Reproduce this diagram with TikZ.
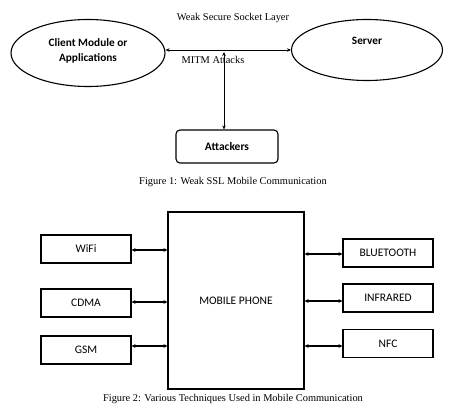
\documentclass[tikz,border=0pt]{standalone}
\usepackage{fontspec}
\setmainfont{Liberation Serif}
\newfontfamily\calfont{Carlito}
\usetikzlibrary{arrows.meta,shapes.geometric}
\begin{document}
\begin{tikzpicture}[x=1pt,y=-1pt,
  ell/.style={draw,ellipse,line width=1.1pt,font=\calfont\bfseries\fontsize{11.3}{15}\selectfont,align=center},
  rbox/.style={draw,rounded corners=4pt,line width=1.1pt,font=\calfont\bfseries\fontsize{11.5}{14}\selectfont},
  tbox/.style={draw,line width=1.1pt,font=\calfont\fontsize{11.5}{14}\selectfont},
  captext/.style={font=\fontsize{10.4}{12}\selectfont},
  link/.style={{Stealth[length=4pt,width=3.5pt]}-{Stealth[length=4pt,width=3.5pt]},line width=0.7pt},
  blink/.style={{Stealth[length=4pt,width=4pt]}-{Stealth[length=4pt,width=4pt]},line width=1.2pt}]
\useasboundingbox (0,0) rectangle (474,412);
% Figure 1
\node[ell,minimum width=154pt,minimum height=67pt] (client) at (88,53) {Client Module or\\Applications\\[-9pt]};
\node[ell,minimum width=151pt,minimum height=61pt] (server) at (367,50) {Server\\[3pt]};
\node[rbox,minimum width=102pt,minimum height=33pt] (att) at (227,146.5) {Attackers};
\draw[link] (client.east |- 0,50) -- (server.west |- 0,50);
\coordinate (mid) at (224,52);
\draw[link] (mid) -- (att.north -| mid);
\node[captext] (ssl) at (233,18) {Weak Secure Socket Layer};
\node[captext] (mitm) at (213,60) {MITM Attacks};
\node[captext] (cap1) at (233,182) {Figure 1: Weak SSL Mobile Communication};
% Figure 2
\node[tbox,minimum width=136pt,minimum height=177pt] (phone) at (236,300.5) {MOBILE PHONE};
\node[tbox,minimum width=90pt,minimum height=28pt] (wifi) at (86,249) {WiFi};
\node[tbox,minimum width=90pt,minimum height=28pt] (cdma) at (86,303) {CDMA};
\node[tbox,minimum width=90pt,minimum height=28pt] (gsm) at (86,350) {GSM};
\node[tbox,minimum width=90pt,minimum height=28pt] (bt) at (388,253) {BLUETOOTH};
\node[tbox,minimum width=90pt,minimum height=28pt] (ir) at (388,298) {INFRARED};
\node[tbox,minimum width=90pt,minimum height=28pt] (nfc) at (388,343.5) {NFC};
\draw[blink] (wifi.east |- 0,250) -- (phone.west |- 0,250);
\draw[blink] (cdma.east |- 0,302) -- (phone.west |- 0,302);
\draw[blink] (gsm.east |- 0,346) -- (phone.west |- 0,346);
\draw[blink] (phone.east |- 0,254) -- (bt.west |- 0,254);
\draw[blink] (phone.east |- 0,301) -- (ir.west |- 0,301);
\draw[blink] (phone.east |- 0,346) -- (nfc.west |- 0,346);
\node[captext] (cap2) at (233,399) {Figure 2: Various Techniques Used in Mobile Communication};
\end{tikzpicture}
\end{document}
